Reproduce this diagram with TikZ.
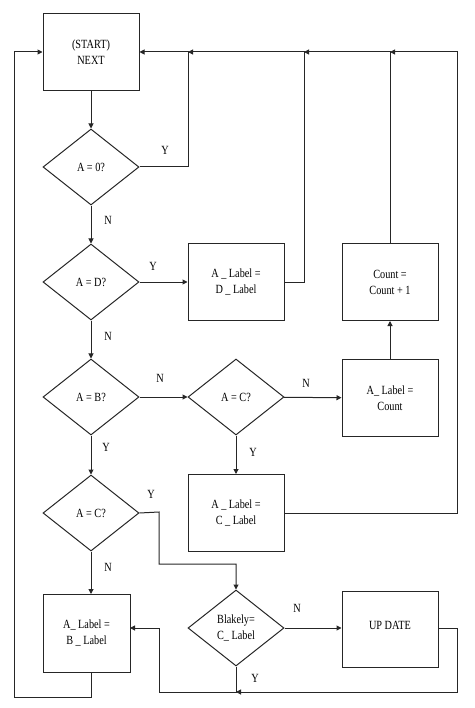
\documentclass[tikz,border=0pt]{standalone}
\usepackage{fontspec}
\setmainfont{Liberation Serif}[FakeStretch=0.82]
\usetikzlibrary{shapes.geometric,arrows.meta}
\begin{document}
\begin{tikzpicture}[x=1pt,y=-1pt,
  every node/.style={font=\fontsize{12.5}{16}\selectfont, text=black},
  ln/.style={draw=black!85, line width=1pt},
  arr/.style={ln, -{Triangle[length=5pt,width=5pt]}},
  box/.style={ln, rectangle, minimum width=96pt, minimum height=77pt, align=center, inner sep=1pt},
  dia/.style={ln, diamond, minimum width=96pt, minimum height=76pt, align=center, inner sep=0pt},
  lbl/.style={inner sep=0pt}
]
\useasboundingbox (0,0) rectangle (474,708);
% nodes
\node[box] (start) at (91,52) {(START)\\NEXT};
\node[dia] (d0) at (91,167) {A = 0?};
\node[dia] (dD) at (91,282) {A = D?};
\node[box] (dbox) at (236,282) {A \_ Label =\\D \_ Label};
\node[box] (count) at (390,282) {Count =\\Count + 1};
\node[dia] (dB) at (91,397) {A = B?};
\node[dia] (dC2) at (236,397) {A = C?};
\node[box] (lcount) at (390,398) {A\_ Label =\\Count};
\node[dia] (dC1) at (91,513) {A = C?};
\node[box] (cbox) at (236,513) {A \_ Label =\\C \_ Label};
\node[box, minimum width=87pt, minimum height=78pt] (bbox) at (86.5,633) {A\_ Label =\\B \_ Label};
\node[dia] (blak) at (236,628) {Blakely=\\C\_ Label};
\node[box, minimum height=76pt] (upd) at (390,629) {\raisebox{7pt}{UP DATE}};
% coordinates
\coordinate (t1) at (188,52);
\coordinate (t2) at (304,52);
\coordinate (t3) at (390,52);
\coordinate (t4) at (457,52);
\coordinate (r0) at (188,167);
\coordinate (rD) at (304,282);
\coordinate (rC) at (457,513);
\coordinate (y1) at (159,512);
\coordinate (y2) at (159,564);
\coordinate (y3) at (236,564);
\coordinate (u1) at (457,628);
\coordinate (u2) at (457,692);
\coordinate (b0) at (236,692);
\coordinate (b1) at (159,692);
\coordinate (b2) at (159,628);
\coordinate (bin) at (130,628);
\coordinate (btop) at (91,594);
\coordinate (bbot) at (91,672);
\coordinate (l1) at (91,697);
\coordinate (l2) at (14,697);
\coordinate (l3) at (14,52);
% connectors
\draw[arr] (start) -- (d0);
\draw[arr] (d0) -- (dD);
\draw[arr] (dD) -- (dB);
\draw[arr] (dB) -- (dC1);
\draw[arr] (dC1.south) -- (btop);
\draw[arr] (d0.east) -- (r0) -- (t1) -- (start.east);
\draw[arr] (dbox.east) -- (rD) -- (t2) -- (t1);
\draw[arr] (count.north) -- (t3) -- (t2);
\draw[arr] (cbox.east) -- (rC) -- (t4) -- (t3);
\draw[arr] (dD) -- (dbox);
\draw[arr] (dB) -- (dC2);
\draw[arr] (dC2) -- (lcount);
\draw[arr] (lcount) -- (count);
\draw[arr] (dC2) -- (cbox);
\draw[arr] (dC1.east) -- (y1) -- (y2) -- (y3) -- (blak.north);
\draw[arr] (blak.east) -- (upd.west |- blak.east);
\draw[arr] (upd.east |- u1) -- (u1) -- (u2) -- (b0);
\draw[arr] (blak.south) -- (b0) -- (b1) -- (b2) -- (bin);
\draw[arr] (bbot) -- (l1) -- (l2) -- (l3) -- (start.west);
% labels
\node[lbl] (ly0) at (165,150) {Y};
\node[lbl] (ln0) at (108,220) {N};
\node[lbl] (lyD) at (153,266) {Y};
\node[lbl] (lnD) at (108,336) {N};
\node[lbl] (lnB) at (160,378) {N};
\node[lbl] (lnC2) at (306,383) {N};
\node[lbl] (lyB) at (106,447) {Y};
\node[lbl] (lyC2) at (253,452) {Y};
\node[lbl] (lyC1) at (151,494) {Y};
\node[lbl] (lnC1) at (108,567) {N};
\node[lbl] (lnbl) at (297,608) {N};
\node[lbl] (lybl) at (255,678) {Y};
\end{tikzpicture}
\end{document}
